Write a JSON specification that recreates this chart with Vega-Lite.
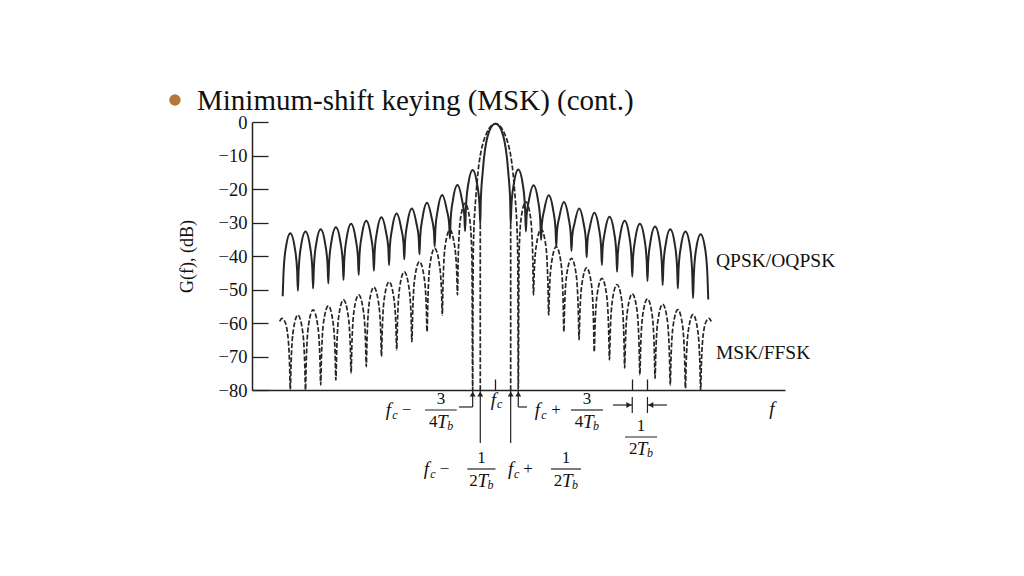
{
"$schema":"https://vega.github.io/schema/vega-lite/v6.json",
"width":533,"height":268,
"autosize":{"type":"none"},
"padding":{"left":252,"top":122,"right":239,"bottom":186},
"background":"white",
"config":{"view":{"stroke":null},"axis":{"grid":false}},
"datasets":{
"q":[{"u":-14,"d":-52},{"u":-13.95,"d":-45.4},{"u":-13.8,"d":-37.7},{"u":-13.5,"d":-33.2},{"u":-13.2,"d":-37.7},{"u":-13.05,"d":-44.4},
{"u":-13,"d":-50.4},{"u":-12.95,"d":-44.2},{"u":-12.8,"d":-37.2},{"u":-12.5,"d":-32.7},{"u":-12.2,"d":-37.2},{"u":-12.05,"d":-43.8},
{"u":-12,"d":-49.7},{"u":-11.95,"d":-43.5},{"u":-11.8,"d":-36.5},{"u":-11.5,"d":-32.0},{"u":-11.2,"d":-36.5},{"u":-11.05,"d":-42.5},
{"u":-11,"d":-48.2},{"u":-10.95,"d":-42.3},{"u":-10.8,"d":-35.9},{"u":-10.5,"d":-31.4},{"u":-10.2,"d":-35.9},{"u":-10.05,"d":-41.7},
{"u":-10,"d":-47.2},{"u":-9.95,"d":-41.3},{"u":-9.8,"d":-34.9},{"u":-9.5,"d":-30.4},{"u":-9.2,"d":-34.9},{"u":-9.05,"d":-40.3},
{"u":-9,"d":-45.7},{"u":-8.95,"d":-40.0},{"u":-8.8,"d":-34.0},{"u":-8.5,"d":-29.5},{"u":-8.2,"d":-34.0},{"u":-8.05,"d":-39.2},
{"u":-8,"d":-44.4},{"u":-7.95,"d":-38.8},{"u":-7.8,"d":-32.9},{"u":-7.5,"d":-28.4},{"u":-7.2,"d":-32.9},{"u":-7.05,"d":-37.7},
{"u":-7,"d":-42.7},{"u":-6.95,"d":-37.3},{"u":-6.8,"d":-31.8},{"u":-6.5,"d":-27.3},{"u":-6.2,"d":-31.8},{"u":-6.05,"d":-36.2},
{"u":-6,"d":-41.0},{"u":-5.95,"d":-35.7},{"u":-5.8,"d":-30.3},{"u":-5.5,"d":-25.8},{"u":-5.2,"d":-30.3},{"u":-5.05,"d":-34.7},
{"u":-5,"d":-39.5},{"u":-4.95,"d":-34.1},{"u":-4.8,"d":-28.6},{"u":-4.5,"d":-24.1},{"u":-4.2,"d":-28.6},{"u":-4.05,"d":-32.6},
{"u":-4,"d":-37.2},{"u":-3.95,"d":-31.8},{"u":-3.8,"d":-26.3},{"u":-3.5,"d":-21.8},{"u":-3.2,"d":-26.3},{"u":-3.05,"d":-30.3},
{"u":-3,"d":-34.8},{"u":-2.95,"d":-29.2},{"u":-2.8,"d":-23.3},{"u":-2.5,"d":-18.8},{"u":-2.2,"d":-23.3},{"u":-2.05,"d":-27.8},
{"u":-2,"d":-32.6},{"u":-1.95,"d":-26.2},{"u":-1.8,"d":-18.8},{"u":-1.5,"d":-14.3},{"u":-1.2,"d":-18.8},{"u":-1.05,"d":-24.8},
{"u":-1,"d":-30.5},{"u":-0.97,"d":-24},{"u":-0.93,"d":-20},{"u":-0.85,"d":-15.5},{"u":-0.75,"d":-10.5},{"u":-0.6,"d":-5.9},{"u":-0.4,"d":-2.6},{"u":-0.2,"d":-1.0},{"u":0,"d":-0.5},{"u":0.2,"d":-1.0},{"u":0.4,"d":-2.6},{"u":0.6,"d":-5.9},{"u":0.75,"d":-10.5},{"u":0.85,"d":-15.5},{"u":0.93,"d":-20},{"u":0.97,"d":-24},
{"u":1,"d":-30.5},{"u":1.05,"d":-24.8},{"u":1.2,"d":-18.7},{"u":1.5,"d":-14.2},{"u":1.8,"d":-18.7},{"u":1.95,"d":-26.2},
{"u":2,"d":-32.7},{"u":2.05,"d":-27.9},{"u":2.2,"d":-23.4},{"u":2.5,"d":-18.9},{"u":2.8,"d":-23.4},{"u":2.95,"d":-29.5},
{"u":3,"d":-35.2},{"u":3.05,"d":-30.5},{"u":3.2,"d":-26.4},{"u":3.5,"d":-21.9},{"u":3.8,"d":-26.4},{"u":3.95,"d":-31.8},
{"u":4,"d":-37.2},{"u":4.05,"d":-32.5},{"u":4.2,"d":-28.4},{"u":4.5,"d":-23.9},{"u":4.8,"d":-28.4},{"u":4.95,"d":-33.4},
{"u":5,"d":-38.5},{"u":5.05,"d":-34.1},{"u":5.2,"d":-30.3},{"u":5.5,"d":-25.8},{"u":5.8,"d":-30.3},{"u":5.95,"d":-35.3},
{"u":6,"d":-40.4},{"u":6.05,"d":-35.7},{"u":6.2,"d":-31.6},{"u":6.5,"d":-27.1},{"u":6.8,"d":-31.6},{"u":6.95,"d":-37.2},
{"u":7,"d":-42.7},{"u":7.05,"d":-37.7},{"u":7.2,"d":-32.8},{"u":7.5,"d":-28.3},{"u":7.8,"d":-32.8},{"u":7.95,"d":-39.0},
{"u":8,"d":-44.7},{"u":8.05,"d":-39.4},{"u":8.2,"d":-34.0},{"u":8.5,"d":-29.5},{"u":8.8,"d":-34.0},{"u":8.95,"d":-40.4},
{"u":9,"d":-46.2},{"u":9.05,"d":-40.7},{"u":9.2,"d":-34.9},{"u":9.5,"d":-30.4},{"u":9.8,"d":-34.9},{"u":9.95,"d":-41.5},
{"u":10,"d":-47.5},{"u":10.05,"d":-41.8},{"u":10.2,"d":-35.7},{"u":10.5,"d":-31.2},{"u":10.8,"d":-35.7},{"u":10.95,"d":-42.6},
{"u":11,"d":-48.7},{"u":11.05,"d":-42.9},{"u":11.2,"d":-36.5},{"u":11.5,"d":-32.0},{"u":11.8,"d":-36.5},{"u":11.95,"d":-43.5},
{"u":12,"d":-49.7},{"u":12.05,"d":-43.7},{"u":12.2,"d":-37.2},{"u":12.5,"d":-32.7},{"u":12.8,"d":-37.2},{"u":12.95,"d":-45.6},
{"u":13,"d":-52.6},{"u":13.05,"d":-45.9},{"u":13.2,"d":-38.0},{"u":13.5,"d":-33.5},{"u":13.8,"d":-38.0},{"u":13.95,"d":-46.2},
{"u":14,"d":-53}],
"m":[{"u":-14.2,"d":-59.5},{"u":-14.05,"d":-58.6},{"u":-13.9,"d":-59.2},{"u":-13.7,"d":-62.5},{"u":-13.55,"d":-72},
{"u":-13.5,"d":-80},{"u":-13.45,"d":-72.2},{"u":-13.3,"d":-62.1},{"u":-13,"d":-57.6},{"u":-12.7,"d":-62.1},{"u":-12.55,"d":-72.2},
{"u":-12.5,"d":-80},{"u":-12.45,"d":-71.6},{"u":-12.3,"d":-60.6},{"u":-12,"d":-56.1},{"u":-11.7,"d":-60.6},{"u":-11.55,"d":-70.7},
{"u":-11.5,"d":-78.5},{"u":-11.45,"d":-70.2},{"u":-11.3,"d":-59.4},{"u":-11,"d":-54.9},{"u":-10.7,"d":-59.4},{"u":-10.55,"d":-69.3},
{"u":-10.5,"d":-77},{"u":-10.45,"d":-68.6},{"u":-10.3,"d":-57.6},{"u":-10,"d":-53.1},{"u":-9.7,"d":-57.6},{"u":-9.55,"d":-67.3},
{"u":-9.5,"d":-75},{"u":-9.45,"d":-66.8},{"u":-9.3,"d":-56.1},{"u":-9,"d":-51.6},{"u":-8.7,"d":-56.1},{"u":-8.55,"d":-65.5},
{"u":-8.5,"d":-73},{"u":-8.45,"d":-64.7},{"u":-8.3,"d":-53.8},{"u":-8,"d":-49.3},{"u":-7.7,"d":-53.8},{"u":-7.55,"d":-62.8},
{"u":-7.5,"d":-70},{"u":-7.45,"d":-62.2},{"u":-7.3,"d":-52.2},{"u":-7,"d":-47.7},{"u":-6.7,"d":-52.2},{"u":-6.55,"d":-60.9},
{"u":-6.5,"d":-68},{"u":-6.45,"d":-59.8},{"u":-6.3,"d":-49.2},{"u":-6,"d":-44.7},{"u":-5.7,"d":-49.2},{"u":-5.55,"d":-58.3},
{"u":-5.5,"d":-65.6},{"u":-5.45,"d":-57.2},{"u":-5.3,"d":-46.2},{"u":-5,"d":-41.7},{"u":-4.7,"d":-46.2},{"u":-4.55,"d":-55.3},
{"u":-4.5,"d":-62.6},{"u":-4.45,"d":-53.7},{"u":-4.3,"d":-42.2},{"u":-4,"d":-37.7},{"u":-3.7,"d":-42.2},{"u":-3.55,"d":-50.6},
{"u":-3.5,"d":-57.6},{"u":-3.45,"d":-48.2},{"u":-3.3,"d":-36.7},{"u":-3,"d":-32.2},{"u":-2.7,"d":-36.7},{"u":-2.55,"d":-44.8},
{"u":-2.5,"d":-51.6},{"u":-2.45,"d":-40.3},{"u":-2.3,"d":-28.8},{"u":-2,"d":-24.3},{"u":-1.7,"d":-28.8},{"u":-1.55,"d":-40.3},
{"u":-1.5,"d":-80},{"u":-1.47,"d":-42},{"u":-1.42,"d":-32},{"u":-1.35,"d":-26},{"u":-1.25,"d":-20},{"u":-1.15,"d":-15},{"u":-1,"d":-10},{"u":-0.8,"d":-6.0},{"u":-0.6,"d":-3.5},{"u":-0.3,"d":-1.2},{"u":0,"d":-0.5},{"u":0.3,"d":-1.2},{"u":0.6,"d":-3.5},{"u":0.8,"d":-6.0},{"u":1,"d":-10},{"u":1.15,"d":-15},{"u":1.25,"d":-20},{"u":1.35,"d":-26},{"u":1.42,"d":-32},{"u":1.47,"d":-42},
{"u":1.5,"d":-80},{"u":1.55,"d":-39.8},{"u":1.7,"d":-28.3},{"u":2,"d":-23.8},{"u":2.3,"d":-28.3},{"u":2.45,"d":-39.8},
{"u":2.5,"d":-51.6},{"u":2.55,"d":-44.7},{"u":2.7,"d":-36.5},{"u":3,"d":-32.0},{"u":3.3,"d":-36.5},{"u":3.45,"d":-48.0},
{"u":3.5,"d":-57.6},{"u":3.55,"d":-50.5},{"u":3.7,"d":-41.7},{"u":4,"d":-37.2},{"u":4.3,"d":-41.7},{"u":4.45,"d":-53.2},
{"u":4.5,"d":-62.6},{"u":4.55,"d":-54.9},{"u":4.7,"d":-45.2},{"u":5,"d":-40.7},{"u":5.3,"d":-45.2},{"u":5.45,"d":-56.5},
{"u":5.5,"d":-65},{"u":5.55,"d":-57.5},{"u":5.7,"d":-48.0},{"u":6,"d":-43.5},{"u":6.3,"d":-48.0},{"u":6.45,"d":-59.5},
{"u":6.5,"d":-68.6},{"u":6.55,"d":-60.9},{"u":6.7,"d":-51.2},{"u":7,"d":-46.7},{"u":7.3,"d":-51.2},{"u":7.45,"d":-62.5},
{"u":7.5,"d":-71},{"u":7.55,"d":-63.1},{"u":7.7,"d":-53.0},{"u":8,"d":-48.5},{"u":8.3,"d":-53.0},{"u":8.45,"d":-64.5},
{"u":8.5,"d":-73.4},{"u":8.55,"d":-65.7},{"u":8.7,"d":-55.8},{"u":9,"d":-51.3},{"u":9.3,"d":-55.8},{"u":9.45,"d":-67.0},
{"u":9.5,"d":-75.5},{"u":9.55,"d":-67.6},{"u":9.7,"d":-57.3},{"u":10,"d":-52.8},{"u":10.3,"d":-57.3},{"u":10.45,"d":-68.2},
{"u":10.5,"d":-76.5},{"u":10.55,"d":-68.8},{"u":10.7,"d":-58.9},{"u":11,"d":-54.4},{"u":11.3,"d":-58.9},{"u":11.45,"d":-70.1},
{"u":11.5,"d":-78.5},{"u":11.55,"d":-70.6},{"u":11.7,"d":-60.5},{"u":12,"d":-56.0},{"u":12.3,"d":-60.5},{"u":12.45,"d":-71.3},
{"u":12.5,"d":-79.5},{"u":12.55,"d":-71.8},{"u":12.7,"d":-62.0},{"u":13,"d":-57.5},{"u":13.3,"d":-62.0},{"u":13.45,"d":-72.1},
{"u":13.5,"d":-80},{"u":13.55,"d":-72},{"u":13.7,"d":-62.5},{"u":13.9,"d":-59.2},{"u":14.05,"d":-58.6},{"u":14.2,"d":-59.5}],
"ext":[{"u":-1,"u2":-1,"d":-30.5,"d2":-80},{"u":1,"u2":1,"d":-30.5,"d2":-80}],
"seg":[
{"u":-4.64,"u2":-2.55,"d":-85.97,"d2":-85.97},
{"u":4.97,"u2":7.07,"d":-85.97,"d2":-85.97},
{"u":-2.4,"u2":-1.5,"d":-85.07,"d2":-85.07},
{"u":-1.5,"u2":-1.5,"d":-85.07,"d2":-80},
{"u":1.5,"u2":1.5,"d":-80,"d2":-85.07},
{"u":1.5,"u2":2.07,"d":-85.07,"d2":-85.07},
{"u":-1,"u2":-1,"d":-80,"d2":-95.82},
{"u":1,"u2":1,"d":-80,"d2":-95.82},
{"u":-1.85,"u2":0.0,"d":-103.58,"d2":-103.58},
{"u":3.65,"u2":5.63,"d":-103.58,"d2":-103.58},
{"u":7.73,"u2":9,"d":-84.48,"d2":-84.48},
{"u":9,"u2":9,"d":-82.09,"d2":-86.87},
{"u":10,"u2":10,"d":-82.09,"d2":-86.87},
{"u":11.28,"u2":10,"d":-84.48,"d2":-84.48},
{"u":8.52,"u2":10.63,"d":-94.03,"d2":-94.03}],
"arr":[{"u":-1.5,"d":-81.2,"dir":"up"},{"u":-1,"d":-81.2,"dir":"up"},{"u":1,"d":-81.2,"dir":"up"},{"u":1.5,"d":-81.2,"dir":"up"},{"u":8.78,"d":-84.48,"dir":"right"},{"u":10.22,"d":-84.48,"dir":"left"}],
"lab":[
{"k":"it","t":"f","u":-0.13,"d":-83.0},{"k":"sb","t":"c","u":0.28,"d":-84.3},
{"k":"it","t":"f","u":-7.04,"d":-85.97},{"k":"sb","t":"c","u":-6.62,"d":-87.46},{"k":"rm","t":"−","u":-5.85,"d":-85.97},{"k":"rm","t":"3","u":-3.59,"d":-82.69},{"k":"rm","t":"4","u":-4.1,"d":-89.55},{"k":"it","t":"T","u":-3.5,"d":-89.55},{"k":"sb","t":"b","u":-2.98,"d":-90.75},
{"k":"it","t":"f","u":2.76,"d":-85.97},{"k":"sb","t":"c","u":3.18,"d":-87.46},{"k":"rm","t":"+","u":3.98,"d":-85.97},{"k":"rm","t":"3","u":6.02,"d":-82.69},{"k":"rm","t":"4","u":5.5,"d":-89.55},{"k":"it","t":"T","u":6.1,"d":-89.55},{"k":"sb","t":"b","u":6.62,"d":-90.75},
{"k":"it","t":"f","u":-4.54,"d":-103.58},{"k":"sb","t":"c","u":-4.12,"d":-105.07},{"k":"rm","t":"−","u":-3.35,"d":-103.58},{"k":"rm","t":"1","u":-0.92,"d":-100.3},{"k":"rm","t":"2","u":-1.44,"d":-107.16},{"k":"it","t":"T","u":-0.84,"d":-107.16},{"k":"sb","t":"b","u":-0.32,"d":-108.36},
{"k":"it","t":"f","u":0.99,"d":-103.58},{"k":"sb","t":"c","u":1.4,"d":-105.07},{"k":"rm","t":"+","u":2.15,"d":-103.58},{"k":"rm","t":"1","u":4.64,"d":-100.3},{"k":"rm","t":"2","u":4.12,"d":-107.16},{"k":"it","t":"T","u":4.72,"d":-107.16},{"k":"sb","t":"b","u":5.24,"d":-108.36},
{"k":"rm","t":"1","u":9.57,"d":-90.75},{"k":"rm","t":"2","u":9.06,"d":-97.61},{"k":"it","t":"T","u":9.65,"d":-97.61},{"k":"sb","t":"b","u":10.17,"d":-98.8},
{"k":"it","t":"f","u":18.19,"d":-85.67}],
"ser":[{"t":"QPSK/OQPSK","u":14.51,"d":-41.49},{"t":"MSK/FFSK","u":14.51,"d":-68.96}],
"ttl":[{"t":"Minimum-shift keying (MSK) (cont.)","u":-19.64,"d":3.58}],
"bul":[{"u":-21.09,"d":6.57}]
},
"encoding":{
"x":{"field":"u","type":"quantitative","scale":{"domain":[-16.02,19.05],"nice":false,"zero":false},
 "axis":{"values":[0,9,10],"labels":false,"title":null,"tickSize":-11,"tickColor":"#222","tickWidth":1.3,"domainColor":"#222","domainWidth":1.5,"grid":false}},
"y":{"field":"d","type":"quantitative","scale":{"domain":[-80,0],"nice":false,"zero":false},
 "axis":{"values":[0,-10,-20,-30,-40,-50,-60,-70,-80],"title":"G(f), (dB)","tickSize":-16,"labelPadding":21,"tickColor":"#222","tickWidth":1.3,"domainColor":"#222","domainWidth":1.5,"grid":false,
 "labelFont":"Liberation Serif","labelFontSize":18.5,"labelColor":"#111","titleFont":"Liberation Serif","titleFontSize":18,"titleFontWeight":"normal","titleColor":"#111","titlePadding":22}}
},
"layer":[
{"data":{"name":"q"},"mark":{"type":"line","interpolate":"monotone","color":"#262626","strokeWidth":2}},
{"data":{"name":"m"},"mark":{"type":"line","interpolate":"monotone","color":"#262626","strokeWidth":1.7,"strokeDash":[5,2]}},
{"data":{"name":"ext"},"mark":{"type":"rule","color":"#262626","strokeWidth":1.7,"strokeDash":[5,2]},"encoding":{"x2":{"field":"u2"},"y2":{"field":"d2"}}},
{"data":{"name":"seg"},"mark":{"type":"rule","color":"#222","strokeWidth":1.2},"encoding":{"x2":{"field":"u2"},"y2":{"field":"d2"}}},
{"data":{"name":"arr"},"mark":{"type":"point","filled":true,"color":"#222","size":34,"opacity":1},"encoding":{"shape":{"field":"dir","type":"nominal","scale":{"domain":["up","right","left"],"range":["triangle-up","triangle-right","triangle-left"]},"legend":null}}},
{"data":{"name":"lab"},"transform":[{"filter":"datum.k==='it'"}],"mark":{"type":"text","font":"Liberation Serif","fontSize":19,"fontStyle":"italic","align":"center","baseline":"middle","color":"#111"},"encoding":{"text":{"field":"t"}}},
{"data":{"name":"lab"},"transform":[{"filter":"datum.k==='rm'"}],"mark":{"type":"text","font":"Liberation Serif","fontSize":17,"align":"center","baseline":"middle","color":"#111"},"encoding":{"text":{"field":"t"}}},
{"data":{"name":"lab"},"transform":[{"filter":"datum.k==='sb'"}],"mark":{"type":"text","font":"Liberation Serif","fontSize":12,"fontStyle":"italic","align":"center","baseline":"middle","color":"#111"},"encoding":{"text":{"field":"t"}}},
{"data":{"name":"ser"},"mark":{"type":"text","font":"Liberation Serif","fontSize":19.5,"align":"left","baseline":"middle","color":"#111"},"encoding":{"text":{"field":"t"}}},
{"data":{"name":"ttl"},"mark":{"type":"text","font":"Liberation Serif","fontSize":29,"align":"left","baseline":"alphabetic","color":"#111"},"encoding":{"text":{"field":"t"}}},
{"data":{"name":"bul"},"mark":{"type":"point","filled":true,"color":"#b5773a","size":130,"opacity":1}}
]
}
